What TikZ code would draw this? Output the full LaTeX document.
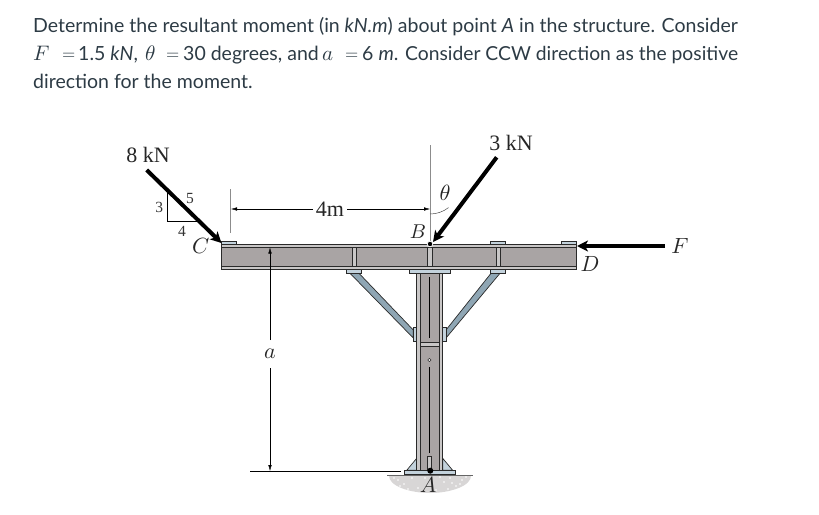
\documentclass[tikz,border=0pt]{standalone}
\usepackage{fontspec}
\setmainfont{Lato}
\newfontfamily\labfont{Liberation Serif}
\usetikzlibrary{arrows.meta}
\definecolor{txt}{HTML}{2D3B45}
\definecolor{webgrey}{HTML}{A9A4A4}
\definecolor{flange}{HTML}{C9C7C7}
\definecolor{steel}{HTML}{C3D2DC}
\definecolor{brace}{HTML}{8FA6B4}
\definecolor{edge}{HTML}{2A2A2A}
\definecolor{ground}{HTML}{D8D6D6}
\definecolor{thin}{HTML}{555555}
\newcommand{\mth}[2][2.0]{\scalebox{#1}{\fontsize{10}{12}\selectfont$#2$}}
\newcommand{\chunk}[2]{\makebox[#1pt][l]{#2}}
\newcommand{\eqs}{\raisebox{.6pt}{\mth[1.7]{=}}}
\tikzset{
  para/.style={anchor=base west,inner sep=0pt,text=txt,font=\fontsize{19.5}{23}\selectfont},
  lab/.style={inner sep=0pt,text=black!85,font=\labfont\fontsize{22}{25}\selectfont},
  small/.style={inner sep=0pt,text=black!80,font=\labfont\fontsize{15.5}{18}\selectfont},
  pointlab/.style={inner sep=0pt,text=black!85},
  force/.style={line width=4pt,black,-{Stealth[length=11pt,width=11pt,inset=3pt]},shorten >=0pt},
  dim/.style={line width=.5pt,thin},
  dimtip/.style={dim,-{Latex[length=6pt,width=3.5pt]}},
  ext/.style={line width=.6pt,black!45},
  part/.style={draw=edge,line width=.9pt},
}
\begin{document}
\begin{tikzpicture}[x=1pt,y=-1pt]
\useasboundingbox (0,0) rectangle (819,514);
% question text
\node[para] (l1) at (33,32) {Determine the resultant moment (in \textit{kN.m}) about point \textit{A} in the structure. Consider};
\node[para] (l2) at (33,60) {\chunk{29}{\mth[2.1]{F}}\chunk{16}{\eqs}\chunk{67}{1.5 \textit{kN},}\chunk{21}{\mth[2.1]{\theta}}\chunk{17}{\eqs}\chunk{139}{30 degrees, and}\chunk{23}{\mth[2.1]{a}}\chunk{17}{\eqs}6 \textit{m}. {\fontsize{19.3}{23}\selectfont Consider CCW direction as the positive}};
\node[para] (l3) at (33,88) {direction for the moment.};
% key points
\coordinate (B) at (430,244);
\coordinate (Cpt) at (221.5,243);
\coordinate (Dpt) at (577,246);
\coordinate (Apt) at (430.3,470.7);
\coordinate (s8) at (146.7,170);
\coordinate (s3) at (496.7,157.3);
\coordinate (sF) at (665,246);
\coordinate (e3) at (433,242);
% ground
\fill[ground] (389,475) -- (471,475) .. controls (472,486) and (450,493) .. (430,493) .. controls (410,493) and (388,486) .. (389,475) -- cycle;
\foreach \p in {(398,480),(404,484),(412,478),(418,488),(444,482),(450,478),(456,486),(462,480),(408,489),(448,489),(440,477),(394,478),(466,477),(400,486),(460,484),(425,478),(436,490),(452,483)}
  \fill[white] \p circle (.8);
\draw[line width=.9pt,black!60] (387,475) -- (472.7,475);
% braces
\draw[part,fill=brace,line width=.7pt] (350,273.3) -- (359,273.3) -- (413.3,330) -- (413.3,338) -- cycle;
\draw[part,fill=brace,line width=.7pt] (500,273.3) -- (491,273.3) -- (446,330) -- (446,338) -- cycle;
\draw[part,fill=steel,line width=.7pt] (413.3,327.3) rectangle (417,341.7);
\draw[part,fill=steel,line width=.7pt] (442.7,327.3) rectangle (446,341.7);
% gussets
\draw[part,fill=steel,line width=.7pt] (416.7,458.3) -- (406.7,470.3) -- (416.7,470.3) -- cycle;
\draw[part,fill=steel,line width=.7pt] (442.7,458.3) -- (452.7,470.3) -- (442.7,470.3) -- cycle;
% column
\draw[part,fill=flange] (416.7,273) rectangle (420.3,470.5);
\draw[part,fill=flange] (439.3,273) rectangle (442.7,470.5);
\draw[part,fill=webgrey] (420.3,273) rectangle (439.3,470.5);
\draw[part,fill=flange,line width=.7pt] (420.3,342.3) rectangle (439.3,346.7);
\draw[thin,line width=.6pt] (429.3,277) -- (429.3,338);
\draw[thin,line width=.6pt] (429.3,367) -- (429.3,452.7);
\draw[part,fill=white,line width=.5pt] (429.3,360) circle (1.6);
\draw[part,fill=flange,line width=.7pt] (427.7,456) rectangle (431,470);
% base plate
\draw[part,fill=steel,line width=.8pt] (404.3,470.5) rectangle (455.7,474.7);
% beam
\draw[part,fill=webgrey] (221.7,247.3) rectangle (576,266);
\draw[part,fill=flange] (221.7,244) rectangle (576,247.3);
\draw[part,fill=flange] (221.7,266) rectangle (576,269.3);
\foreach \a/\b in {352.3/356.7,427.7/432.3,496.7/500.7}
  \draw[part,fill=flange,line width=.7pt] (\a,247.3) rectangle (\b,266);
% plates
\foreach \a/\b in {221.7/236.7,490/505.7,561/576}
  \draw[part,fill=steel,line width=.7pt] (\a,241) rectangle (\b,244);
\foreach \a/\b in {346/361.7,490/505.7,409/450}
  \draw[part,fill=steel,line width=.7pt] (\a,269.3) rectangle (\b,273.3);
% extension lines
\draw[ext] (430,145) -- (B);
\draw[ext] (230.7,189) -- (230.7,233);
% 4m dimension
\node[lab] (fourm) at (330,209) {4m};
\draw[dimtip] (313,209) -- (231,209);
\draw[dimtip] (347.3,209) -- (430,209);
% a dimension
\node[pointlab] (alab) at (270,354) {\mth[2.2]{a}};
\draw[dimtip] (270,340) -- (270,247.5);
\draw[dimtip] (270,368) -- (270,471);
\draw[dim] (250,471) -- (401,471);
% slope triangle
\draw[dim] (167.3,191.7) -- (167.3,221.3) -- (197.3,221.3);
\node[small] (n3) at (159.3,207) {3};
\node[small] (n5) at (190,198) {5};
\node[small] (n4) at (182,231) {4};
% theta arc
\draw[line width=.5pt,black!70] (430,214) arc[start angle=90,end angle=52,radius=30];
% forces
\draw[force] (s8) -- (Cpt);
\draw[force] (s3) -- (e3);
\draw[force] (sF) -- (Dpt);
% pins
\draw[white,fill=black,line width=.8pt] (B) circle (2.8);
\fill[black] (Apt) circle (3);
% labels
\node[lab] (k8) at (148,155) {8 kN};
\node[lab] (k3) at (511,143) {3 kN};
\node[pointlab] (th) at (445,193) {\mth[2.2]{\theta}};
\node[pointlab] (Bl) at (418,232) {\mth[2.0]{B}};
\node[pointlab] (Cl) at (200.7,246) {\mth[2.2]{C}};
\node[pointlab] (Dl) at (590,264) {\mth[2.2]{D}};
\node[pointlab] (Fl) at (680,246) {\mth[2.2]{F}};
\node[pointlab] (Al) at (428,485) {\mth[2.2]{A}};
\end{tikzpicture}
\end{document}
